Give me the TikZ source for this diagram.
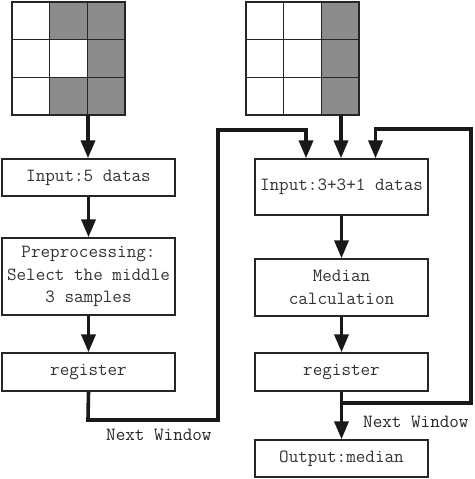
\documentclass[tikz,border=0pt]{standalone}
\usetikzlibrary{arrows.meta}
\begin{document}
\begin{tikzpicture}[x=1pt,y=-1pt,
  box/.style={draw=black!85, line width=1.4pt, fill=white, minimum width=173pt, align=center,
    font=\fontsize{18.6}{22.5}\ttfamily, text=black!80, inner sep=0pt},
  flow/.style={line width=3.6pt, black!90, -{Triangle[length=18pt,width=14pt]}},
  wire/.style={line width=3.6pt, black!90},
  cellw/.style={draw=black!85, line width=1.4pt, fill=white},
  cellg/.style={draw=black!85, line width=1.4pt, fill=black!45},
  lbl/.style={font=\fontsize{18.6}{22.5}\ttfamily, text=black!85, inner sep=0pt}]
\useasboundingbox (0,0) rectangle (474,479);
% left grid
\foreach \c/\r/\s in {0/0/cellw,1/0/cellg,2/0/cellg,0/1/cellw,1/1/cellw,2/1/cellg,0/2/cellw,1/2/cellg,2/2/cellg}{
  \path[\s] ({12+\c*37.7},{2+\r*37.7}) rectangle ({12+(\c+1)*37.7},{2+(\r+1)*37.7});
}
% right grid
\foreach \c/\r/\s in {0/0/cellw,1/0/cellw,2/0/cellg,0/1/cellw,1/1/cellw,2/1/cellg,0/2/cellw,1/2/cellw,2/2/cellg}{
  \path[\s] ({246+\c*37.7},{2+\r*37.7}) rectangle ({246+(\c+1)*37.7},{2+(\r+1)*37.7});
}
\coordinate (gL) at (88,115);
\coordinate (gR) at (341,115);
% left column
\node[box, minimum height=37pt] (in5) at (88.5,177.5) {Input:5 datas};
\node[box, minimum height=77pt] (pre) at (88.5,276.5) {Preprocessing:\\Select the middle\\3 samples};
\node[box, minimum height=38pt] (reg1) at (88.5,372) {register};
% right column
\node[box, minimum height=56pt] (in331) at (341.5,187) {Input:3+3+1 datas};
\node[box, minimum height=57pt] (med) at (341.5,287.5) {Median\\calculation};
\node[box, minimum height=38pt] (reg2) at (341.5,372) {register};
\node[box, minimum height=37pt] (out) at (341.5,458.5) {Output:median};
% arrows left
\draw[flow] (gL) -- (gL |- in5.north);
\draw[flow] (in5.south) -- (pre.north);
\draw[flow] (pre.south) -- (reg1.north);
% loop from left register to right input
\coordinate (l1) at (88,420);
\coordinate (l2) at (218,420);
\coordinate (l3) at (218,130);
\coordinate (l4) at (306,130);
\draw[wire] (reg1.south) -- (l1) -- (l2) -- (l3) -- ([xshift=1.8pt]l4);
\draw[flow] (l4) -- (l4 |- in331.north);
% right grid arrow
\draw[flow] (gR) -- (gR |- in331.north);
% feedback from right register
\coordinate (r1) at (341,403);
\coordinate (r2) at (471,403);
\coordinate (r3) at (471,129);
\coordinate (r4) at (375.5,129);
\draw[wire] (r1) -- (r2) -- (r3) -- ([xshift=-1.8pt]r4);
\draw[flow] (r4) -- (r4 |- in331.north);
% right column arrows
\draw[flow] (in331.south) -- (med.north);
\draw[flow] (med.south) -- (reg2.north);
\draw[flow] (reg2.south) -- (out.north);
% labels
\node[lbl, anchor=west] (nw1) at (106,435) {Next Window};
\node[lbl, anchor=west] (nw2) at (363,422) {Next Window};
\end{tikzpicture}
\end{document}
